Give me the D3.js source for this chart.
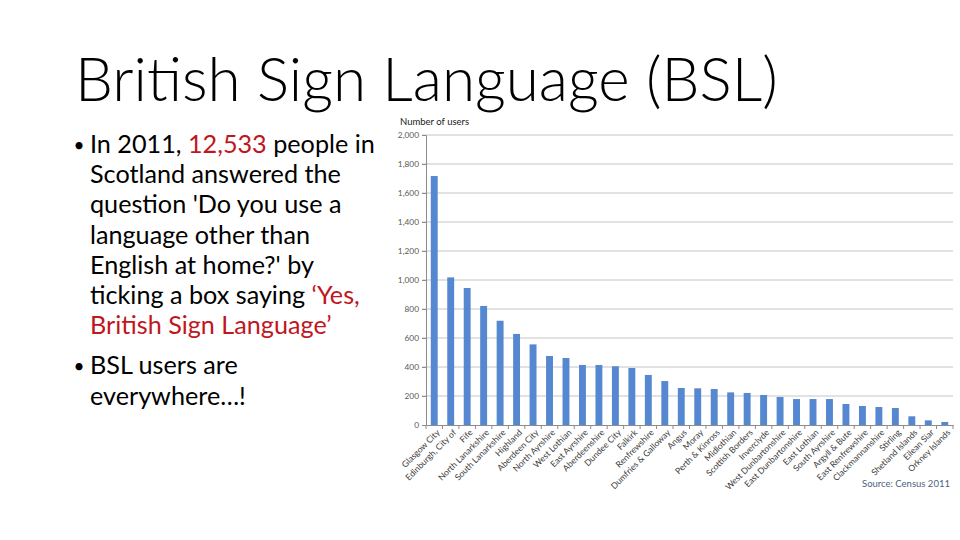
<!DOCTYPE html>
<html>
<head>
<meta charset="utf-8">
<script src="https://cdn.jsdelivr.net/npm/d3@7"></script>
<style>
  html, body { margin: 0; padding: 0; background: #ffffff; }
  svg { display: block; }
</style>
</head>
<body>
<svg id="chart" width="960" height="540"></svg>
<script>
// ---- data ----
const categories = [
  "Glasgow City", "Edinburgh, City of", "Fife", "North Lanarkshire", "South Lanarkshire",
  "Highland", "Aberdeen City", "North Ayrshire", "West Lothian", "East Ayrshire",
  "Aberdeenshire", "Dundee City", "Falkirk", "Renfrewshire", "Dumfries & Galloway",
  "Angus", "Moray", "Perth & Kinross", "Midlothian", "Scottish Borders",
  "Inverclyde", "West Dunbartonshire", "East Dunbartonshire", "East Lothian", "South Ayrshire",
  "Argyll & Bute", "East Renfrewshire", "Clackmannanshire", "Stirling", "Shetland Islands",
  "Eilean Siar", "Orkney Islands"
];
const users = [
  1717, 1018, 945, 821, 719,
  628, 556, 476, 462, 414,
  414, 405, 393, 345, 303,
  255, 253, 248, 225, 221,
  207, 193, 179, 179, 179,
  145, 131, 124, 117, 60,
  32, 21
];
const yTicks = [0, 200, 400, 600, 800, 1000, 1200, 1400, 1600, 1800, 2000];
const titleText = "British Sign Language (BSL)";
const yAxisTitle = "Number of users";
const sourceText = "Source: Census 2011";
const bulletLines = [
  { bullet: true,  parts: [["In 2011, ", false], ["12,533", true], [" people in", false]] },
  { bullet: false, parts: [["Scotland answered the", false]] },
  { bullet: false, parts: [["question 'Do you use a", false]] },
  { bullet: false, parts: [["language other than", false]] },
  { bullet: false, parts: [["English at home?' by", false]] },
  { bullet: false, parts: [["ticking a box saying ", false], ["\u2018Yes,", true]] },
  { bullet: false, parts: [["British Sign Language\u2019", true]] },
  { bullet: true,  parts: [["BSL users are", false]] },
  { bullet: false, parts: [["everywhere\u2026!", false]] }
];

// ---- layout ----
const svg = d3.select("#chart");
const font = "Lato, 'Open Sans', sans-serif";
const plot = { left: 426, right: 953, top: 135, bottom: 425 };

function fitWidth(sel, target) {
  const w = sel.node().getComputedTextLength();
  const fs = parseFloat(sel.attr("font-size"));
  sel.attr("font-size", fs * target / w);
}

// Title
const title = svg.append("text")
  .attr("x", 75).attr("y", 101)
  .attr("font-family", font).attr("font-weight", 300)
  .attr("font-size", 56).attr("fill", "#000")
  .text(titleText);
fitWidth(title, 703);

// Bullets
const lineY0 = 153, lineStep = 30.2;
const bodyG = svg.append("g");
const bodySize = 24;
bulletLines.forEach((ln, i) => {
  const y = lineY0 + i * lineStep + (i >= 7 ? 10 : 0);
  if (ln.bullet) {
    bodyG.append("text").attr("x", 79).attr("y", y - 1)
      .attr("text-anchor", "middle")
      .attr("font-family", font).attr("font-size", 19).attr("fill", "#000")
      .text("\u2022");
  }
  const t = bodyG.append("text").attr("class", "bodyline").attr("x", 90).attr("y", y)
    .attr("font-family", font).attr("font-size", bodySize).attr("fill", "#000");
  ln.parts.forEach(p => {
    t.append("tspan").attr("fill", p[1] ? "#C0161E" : "#000").text(p[0]);
  });
});
{
  const first = bodyG.select(".bodyline");
  const w = first.node().getComputedTextLength();
  const fs = bodySize * 285 / w;
  bodyG.selectAll(".bodyline").attr("font-size", fs);
}

// Scales
const x = d3.scaleBand().domain(categories).range([plot.left, plot.right]).paddingInner(0.58).paddingOuter(0.29);
const y = d3.scaleLinear().domain([0, 2000]).range([plot.bottom, plot.top]);

// Gridlines
svg.append("g").selectAll("line").data(yTicks.filter(d => d > 0)).join("line")
  .attr("x1", plot.left - 4).attr("x2", plot.right)
  .attr("y1", d => y(d)).attr("y2", d => y(d))
  .attr("stroke", "#c4c4c4").attr("stroke-width", 1);

// Y axis
const yAxis = d3.axisLeft(y).tickValues(yTicks).tickSize(4).tickFormat(d3.format(","));
const yg = svg.append("g").attr("transform", `translate(${plot.left},0)`).call(yAxis);
yg.select(".domain").attr("stroke", "#8c8c8c");
yg.selectAll(".tick line").attr("stroke", "#8c8c8c");
yg.selectAll(".tick text").attr("font-family", font).attr("font-size", 8.3)
  .attr("fill", "#595959").attr("x", -7);

// Bars
svg.append("g").selectAll("rect").data(users).join("rect")
  .attr("x", (d, i) => x(categories[i]))
  .attr("width", x.bandwidth())
  .attr("y", d => y(d))
  .attr("height", d => y(0) - y(d))
  .attr("fill", "#5588d0");

// X axis
const xAxis = d3.axisBottom(x).tickSize(0).tickFormat(d => d);
const xg = svg.append("g").attr("transform", `translate(0,${plot.bottom})`).call(xAxis);
xg.select(".domain").attr("stroke", "#8c8c8c");
xg.selectAll(".tick text")
  .attr("font-family", font).attr("font-size", 8.6).attr("fill", "#3a3a3a")
  .attr("text-anchor", "end")
  .attr("transform", "translate(4,6) rotate(-45)")
  .attr("dy", "0.35em").attr("y", 0).attr("x", 0);
const step = x.step();
svg.append("g").selectAll("line").data(d3.range(categories.length + 1)).join("line")
  .attr("x1", i => plot.left + i * step).attr("x2", i => plot.left + i * step)
  .attr("y1", plot.bottom).attr("y2", plot.bottom + 4)
  .attr("stroke", "#8c8c8c");

// Axis title
svg.append("text").attr("x", 400).attr("y", 125)
  .attr("font-family", font).attr("font-size", 9.5).attr("fill", "#1a1a1a")
  .text(yAxisTitle);

// Source
svg.append("text").attr("x", 862).attr("y", 487)
  .attr("font-family", font).attr("font-size", 9.5).attr("fill", "#4d5f80")
  .text(sourceText);
</script>
</body>
</html>
